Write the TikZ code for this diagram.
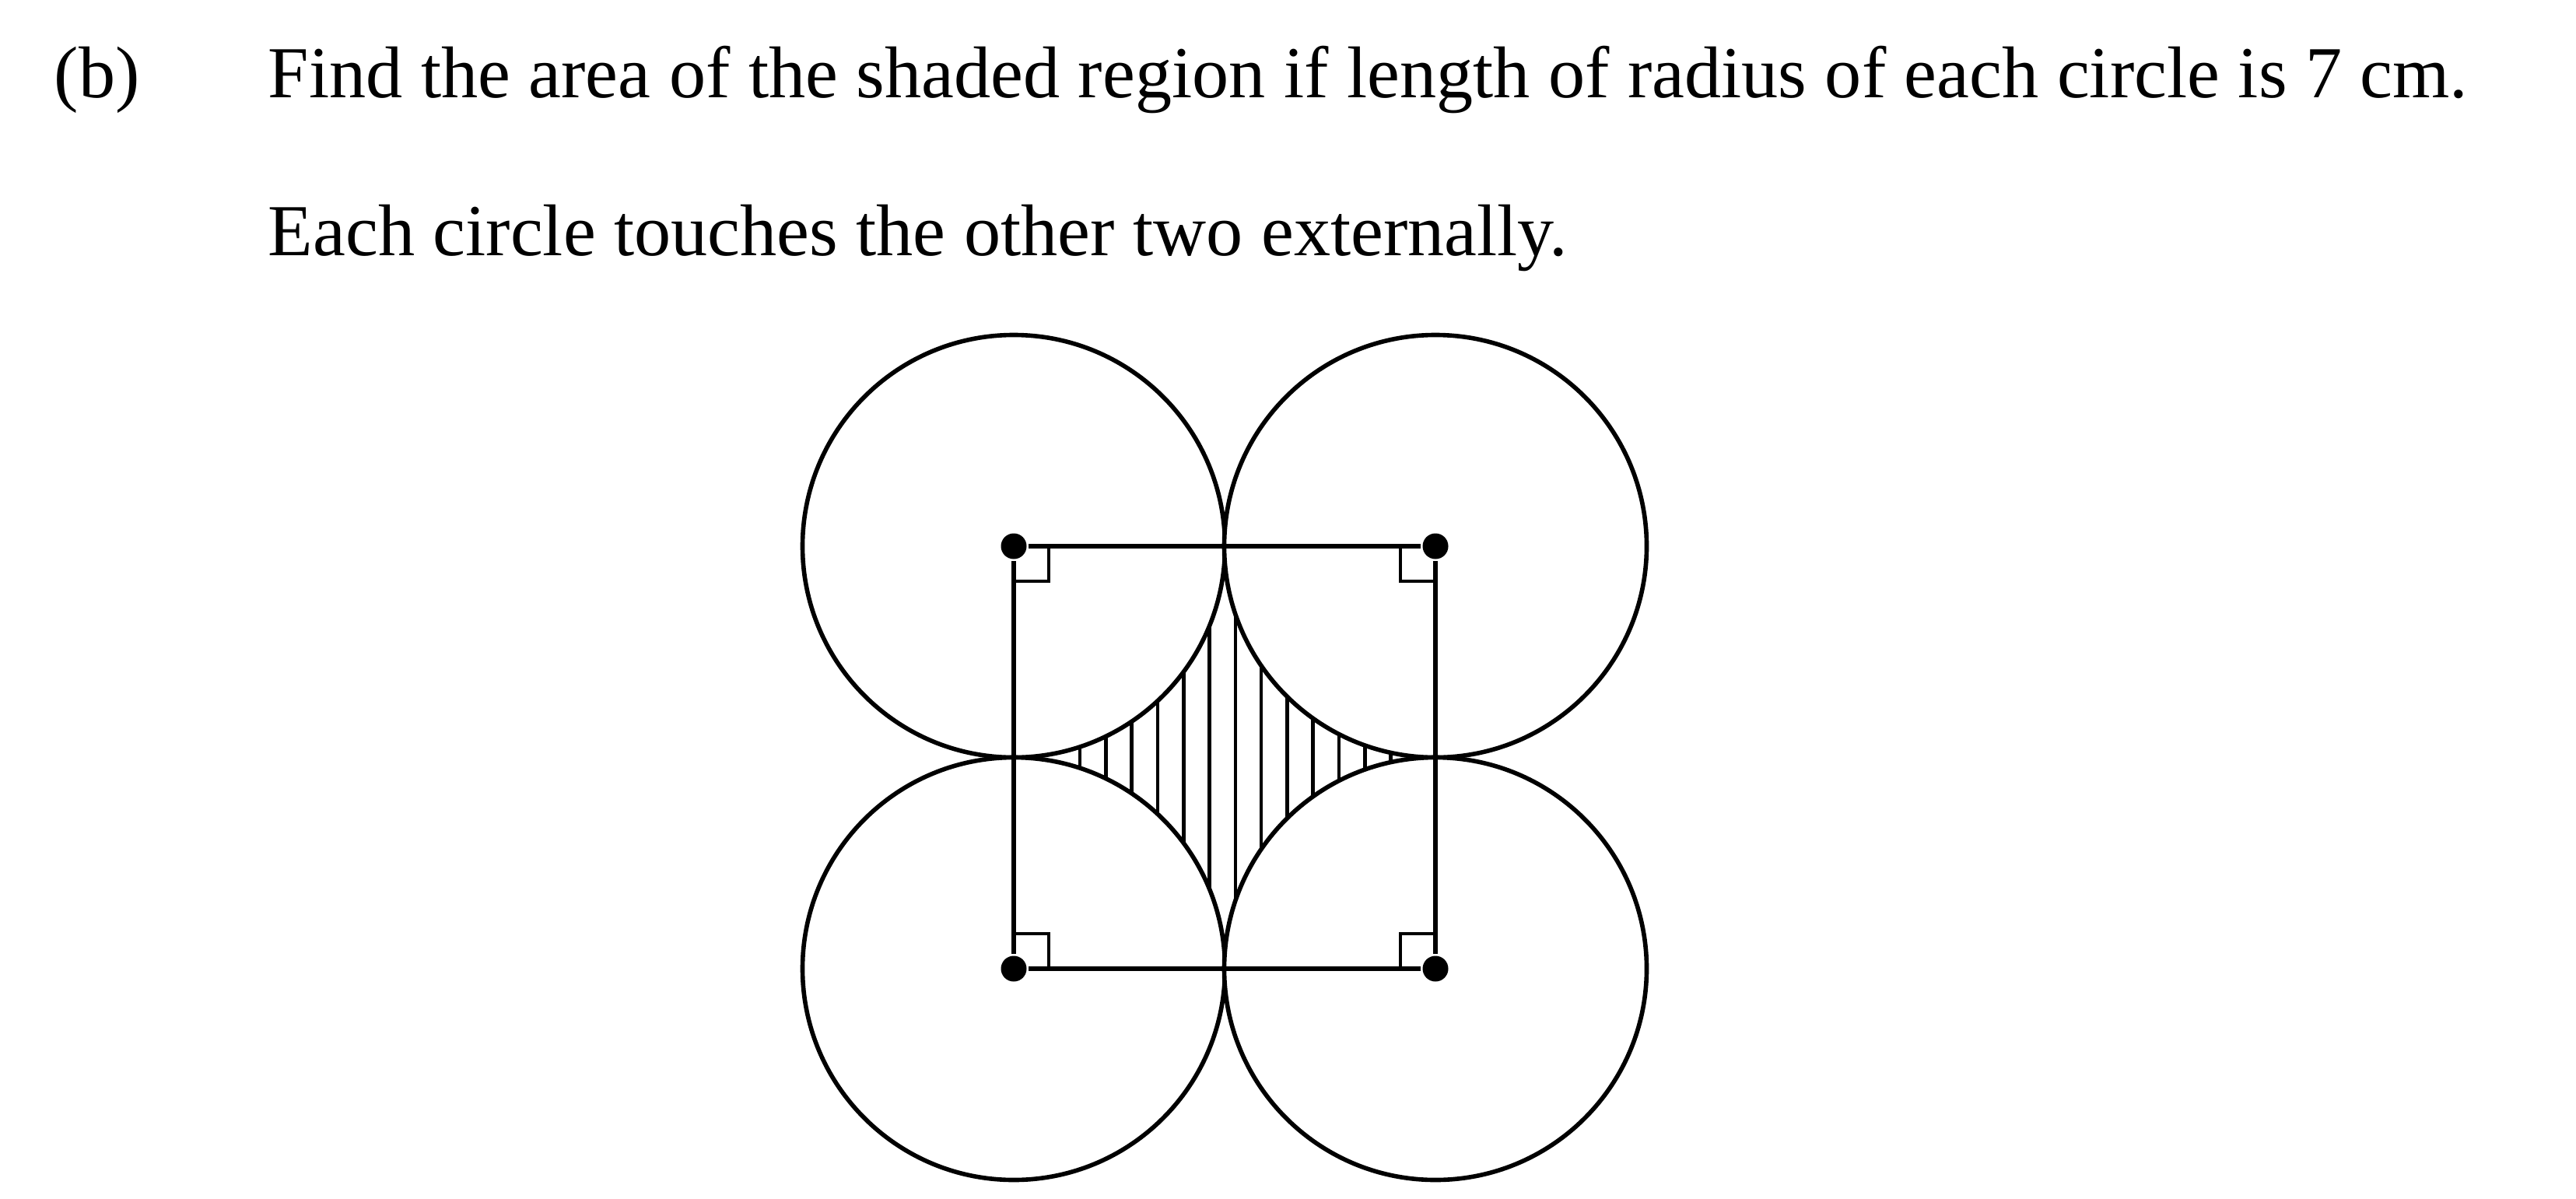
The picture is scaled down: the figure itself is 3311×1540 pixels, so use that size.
\documentclass[tikz,border=0pt]{standalone}
\usepackage{fontspec}
\setmainfont{Liberation Serif}
\tikzstyle{dot}=[
        circle,
        fill = black,
        inner sep = 0pt,
        minimum size = 3.3mm
    ]
\tikzstyle{ring}=[
    draw = black,
    line width = 1.6pt,
    fill = white
]
\tikzstyle{hatch}=[line width = 1.3pt]
\tikzstyle{txt}=[anchor = base west, inner sep = 0pt, font = \fontsize{26.8}{32}\selectfont]

\begin{document}
\begin{tikzpicture}[x=0.1mm, y=-0.1mm, line width=1.6pt]
        \path[use as bounding box, fill=white] (0,0) rectangle (3311,1540);

        \node[txt] (b) at (67,125) {(b)};
        \node[txt] (q1) at (342,125) {Find the area of the shaded region if length of radius of each circle is 7 cm.};
        \node[txt] (q2) at (342,328) {Each circle touches the other two externally.};

        \coordinate (o1) at (1303,702);
        \coordinate (o2) at (1845,702);
        \coordinate (o3) at (1303,1245);
        \coordinate (o4) at (1845,1245);

        \foreach \k in {0,...,12}
            \draw[hatch] ({1388+33.3*\k},702) -- ++(0,543);

        \foreach \c in {o1,o2,o3,o4}
            \draw[ring] (\c) circle [radius=271.5];

        \node[dot] (1) at (o1) {};
        \node[dot] (2) at (o2) {};
        \node[dot] (3) at (o3) {};
        \node[dot] (4) at (o4) {};

        \draw[-] (1) -- (2);
        \draw[-] (2) -- (4);
        \draw[-] (4) -- (3);
        \draw[-] (3) -- (1);

        \foreach \x/\y/\sx/\sy in {1303/702/1/1, 1845/702/-1/1, 1303/1245/1/-1, 1845/1245/-1/-1}
            \draw[line width=1.3pt] (\x+45*\sx,\y) -- ++(0,45*\sy) -- ++(-45*\sx,0);

    \end{tikzpicture}
\end{document}
